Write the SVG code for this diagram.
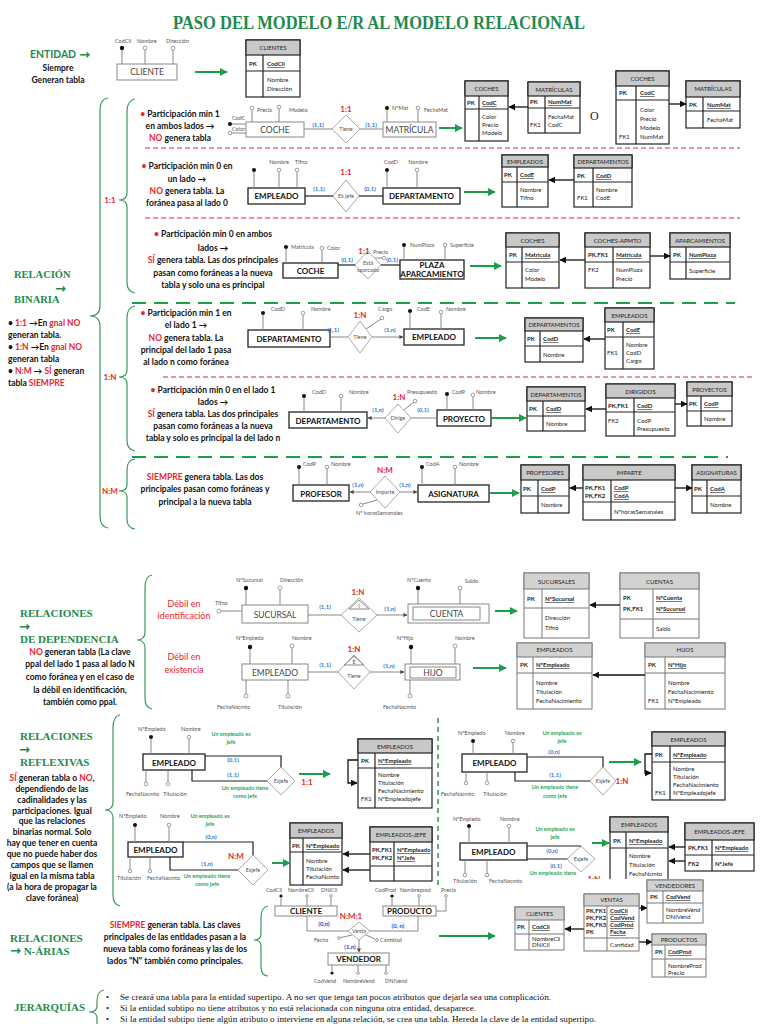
<svg xmlns="http://www.w3.org/2000/svg" width="768" height="1024" viewBox="0 0 768 1024">
<defs>
<marker id="ah" viewBox="0 0 10 10" refX="9" refY="5" markerWidth="7" markerHeight="7" orient="auto" markerUnits="userSpaceOnUse"><path d="M0,0 L10,5 L0,10 z" fill="#111"/></marker>
<marker id="gah" viewBox="0 0 10 10" refX="9" refY="5" markerWidth="8" markerHeight="8" orient="auto" markerUnits="userSpaceOnUse"><path d="M0,0 L10,5 L0,10 z" fill="#1e9e4a"/></marker>
<marker id="sah" viewBox="0 0 10 10" refX="9" refY="5" markerWidth="4" markerHeight="4" orient="auto" markerUnits="userSpaceOnUse"><path d="M0,0 L10,5 L0,10 z" fill="#444"/></marker>
<style>
.s{font-family:Lato,'Liberation Sans',Arial,sans-serif}
.bt{font-family:Lato,'Liberation Sans',Arial,sans-serif;font-weight:bold;font-size:8.5px;fill:#111}
.red{fill:#e8262e}
.ser{font-family:'Liberation Serif','Times New Roman',serif;font-weight:bold;fill:#1f8a4c}
.arr{font-family:'DejaVu Sans',sans-serif;font-weight:bold;fill:#1f8a4c}
.at{font-family:Lato,'Liberation Sans',sans-serif;font-size:5.5px;fill:#555}
.card{font-family:Lato,'Liberation Sans',sans-serif;font-weight:bold;font-size:6px;fill:#2e7dd1;text-anchor:middle}
.rl{font-family:Lato,'Liberation Sans',sans-serif;font-weight:bold;font-size:8px;fill:#e8262e;text-anchor:middle}
.ent{fill:#fff;stroke:#222;stroke-width:1.3}
.entg{fill:#fff;stroke:#888;stroke-width:1}
.et{font-family:Lato,'Liberation Sans',sans-serif;font-weight:bold;font-size:8px;fill:#111;text-anchor:middle}
.etg{font-family:Lato,'Liberation Sans',sans-serif;font-size:8.5px;fill:#444;text-anchor:middle}
.dia{fill:#fff;stroke:#aaa;stroke-width:1}
.dt{font-family:Lato,'Liberation Sans',sans-serif;font-size:5.5px;fill:#555;text-anchor:middle}
.ln{stroke:#888;stroke-width:1;fill:none}
.lk{stroke:#222;stroke-width:1.2;fill:none}
.fd{fill:#111}
.hd{fill:#fff;stroke:#888;stroke-width:0.8}
.tb{fill:#fff;stroke:#222;stroke-width:1.2}
.th{fill:#c8c8c8;stroke:#222;stroke-width:1.2}
.tl{stroke:#222;stroke-width:1.2}
.tbg{fill:#fff;stroke:#777;stroke-width:1}
.thg{fill:#d2d2d2;stroke:#777;stroke-width:1}
.tlg{stroke:#777;stroke-width:1}
.tt{font-family:Lato,'Liberation Sans',sans-serif;font-size:6px;fill:#222}
.c{text-anchor:middle}
.b{font-weight:bold}
.tk{font-weight:bold;text-decoration:underline}
.fk{stroke:#111;stroke-width:1.3;fill:none;marker-end:url(#ah)}
.ga{stroke:#1e9e4a;stroke-width:2;fill:none;marker-end:url(#gah)}
.br{stroke:#3a9a5c;stroke-width:1.2;fill:none}
.rd{stroke:#e8262e;stroke-width:1;stroke-dasharray:5 3}
.gd{stroke:#1e9e4a;stroke-width:2.2;stroke-dasharray:14 8}
.gt{font-family:Lato,'Liberation Sans',sans-serif;font-weight:bold;font-size:5.5px;fill:#2aa85a;text-anchor:middle}
.jt{font-family:'Liberation Serif','Times New Roman',serif;font-size:8.5px;fill:#111}
</style>
</defs>
<rect width="768" height="1024" fill="#fff"/>

<text x="173" y="29" class="ser" font-size="18" textLength="412" lengthAdjust="spacingAndGlyphs">PASO DEL MODELO E/R AL MODELO RELACIONAL</text>

<!-- ===== ENTIDAD ===== -->
<g id="lbl-entidad">
<text x="30" y="58" class="s" font-weight="bold" font-size="11.5" fill="#1f8a4c" textLength="46" lengthAdjust="spacingAndGlyphs">ENTIDAD</text>
<text x="79" y="58.5" class="arr" font-size="13">→</text>
<text x="58" y="71" class="bt" text-anchor="middle">Siempre</text>
<text x="58" y="83" class="bt" text-anchor="middle">Generan tabla</text>
</g>
<g id="e-cliente">
<rect class="entg" x="117" y="64" width="60" height="16"/>
<text class="etg" x="147" y="75" font-size="8">CLIENTE</text>
<line class="ln" x1="122" y1="50" x2="122" y2="64"/><circle class="fd" cx="122" cy="48" r="2.2"/><text class="at" x="115" y="43" font-size="5">CodCli</text>
<line class="ln" x1="145" y1="50" x2="145" y2="64"/><circle class="hd" cx="145" cy="48" r="2"/><text class="at" x="137" y="43" font-size="5">Nombre</text>
<line class="ln" x1="173" y1="50" x2="173" y2="64"/><circle class="hd" cx="173" cy="48" r="2"/><text class="at" x="166" y="43" font-size="5">Dirección</text>
</g>
<g id="t-clientes">
<rect class="tb" x="246" y="40" width="54" height="57"/><rect class="th" x="246" y="40" width="54" height="15"/>
<line class="tl" x1="246" y1="71" x2="300" y2="71"/><line class="tl" x1="263" y1="55" x2="263" y2="97"/>
<text class="tt c" x="273" y="50">CLIENTES</text>
<text class="tt b" x="249" y="66">PK</text><text class="tt tk" x="267" y="66">CodCli</text>
<text class="tt" x="267" y="82">Nombre</text><text class="tt" x="267" y="91">Dirección</text>
</g>

<!-- ===== BINARIA braces & left text ===== -->
<g id="braces-binaria">
<path class="br" d="M108,98 Q100,99 100,110 L100,306 Q100,316 90,316 Q100,316 100,326 L100,516 Q100,527 108,528"/>
<path class="br" d="M135,99 Q127,100 127,112 L127,193 Q127,200 119,200 Q127,200 127,207 L127,282 Q127,292 135,293"/>
<path class="br" d="M135,306 Q127,307 127,318 L127,370 Q127,377 119,377 Q127,377 127,384 L127,440 Q127,450 135,451"/>
<path class="br" d="M135,459 Q127,460 127,470 L127,485 Q127,491 119,491 Q127,491 127,497 L127,519 Q127,528 135,529"/>
<text class="rl" x="110" y="203">1:1</text>
<text class="rl" x="110" y="380">1:N</text>
<text class="rl" x="110" y="494">N:M</text>
</g>
<g id="lbl-binaria">
<text x="14" y="278" class="ser" font-size="10.5">RELACIÓN</text>
<text x="55" y="293" class="arr" font-size="13">→</text>
<text x="14" y="303" class="ser" font-size="10.5">BINARIA</text>
<text x="8" y="326" class="bt">• <tspan class="red">1:1</tspan> →En <tspan class="red">gnal NO</tspan></text>
<text x="8" y="338" class="bt">generan tabla.</text>
<text x="8" y="350" class="bt">• <tspan class="red">1:N</tspan> →En <tspan class="red">gnal NO</tspan></text>
<text x="8" y="362" class="bt">generan tabla</text>
<text x="8" y="374" class="bt">• <tspan class="red">N:M</tspan> → <tspan class="red">SÍ</tspan> generan</text>
<text x="8" y="386" class="bt">tabla <tspan class="red">SIEMPRE</tspan></text>
</g>

<!-- separators -->
<g id="separators">
<line class="rd" x1="145" y1="148" x2="740" y2="148"/>
<line class="rd" x1="145" y1="218" x2="740" y2="218"/>
<line class="gd" x1="132" y1="303" x2="735" y2="303"/>
<line class="rd" x1="163" y1="377" x2="755" y2="377"/>
<line class="gd" x1="132" y1="457" x2="728" y2="457"/>
</g>

<!-- ===== 1:1 row 1 ===== -->
<g id="txt-11a">
<text x="180" y="117" class="bt" text-anchor="middle"><tspan class="red">•</tspan> Participación min 1</text>
<text x="180" y="129" class="bt" text-anchor="middle">en ambos lados →</text>
<text x="180" y="141" class="bt" text-anchor="middle"><tspan class="red">NO</tspan> genera tabla</text>
</g>
<g id="e-coche1">
<rect class="entg" x="246" y="122" width="58" height="15"/>
<text class="etg" x="275" y="133" font-size="8">COCHE</text>
<line class="ln" x1="232" y1="124" x2="246" y2="124"/><circle class="fd" cx="230" cy="124" r="2"/><text class="at" x="232" y="120" font-size="5">CodC</text>
<line class="ln" x1="232" y1="133" x2="246" y2="133"/><circle class="hd" cx="230" cy="133" r="1.8"/><text class="at" x="232" y="131" font-size="5">Color</text>
<line class="ln" x1="252" y1="110" x2="252" y2="122"/><circle class="hd" cx="252" cy="108" r="1.8"/><text class="at" x="257" y="112">Precio</text>
<line class="ln" x1="279" y1="109" x2="279" y2="122"/><circle class="hd" cx="279" cy="107" r="1.8"/><text class="at" x="289" y="112">Modelo</text>
</g>
<g id="r-tiene1">
<polygon class="dia" points="346,115 360,129 346,143 332,129"/><text class="dt" x="346" y="131">Tiene</text>
<text class="rl" x="346" y="112">1:1</text>
</g>
<g id="e-matricula">
<rect class="entg" x="383" y="122" width="53" height="15"/>
<text class="etg" x="409.5" y="133" font-size="8">MATRÍCULA</text>
<line class="ln" x1="387" y1="110" x2="387" y2="122"/><circle class="fd" cx="387" cy="108" r="2"/><text class="at" x="392" y="110">NºMat</text>
<line class="ln" x1="418" y1="110" x2="418" y2="122"/><circle class="hd" cx="418" cy="108" r="1.8"/><text class="at" x="424" y="112">FechaMat</text>
</g>
<g id="t-coches1">
<rect class="tb" x="465" y="81" width="43" height="60"/><rect class="th" x="465" y="81" width="43" height="15"/>
<line class="tl" x1="465" y1="109" x2="508" y2="109"/><line class="tl" x1="479" y1="96" x2="479" y2="141"/>
<text class="tt c" x="486.5" y="91">COCHES</text>
<text class="tt b" x="467" y="105">PK</text><text class="tt tk" x="482" y="105">CodC</text>
<text class="tt" x="482" y="119">Color</text><text class="tt" x="482" y="127">Precio</text><text class="tt" x="482" y="135">Modelo</text>
</g>
<g id="t-matriculas1">
<rect class="tb" x="528" y="82" width="52" height="51"/><rect class="th" x="528" y="82" width="52" height="14"/>
<line class="tl" x1="528" y1="108" x2="580" y2="108"/><line class="tl" x1="545" y1="96" x2="545" y2="133"/>
<text class="tt c" x="554" y="91.5">MATRÍCULAS</text>
<text class="tt b" x="530" y="104">PK</text><text class="tt tk" x="548" y="104">NumMat</text>
<text class="tt" x="548" y="119">FechaMat</text><text class="tt" x="548" y="127">CodC</text><text class="tt" x="530" y="127">FK1</text>
</g>
<text x="590" y="120" font-family="'Liberation Serif',serif" font-size="12" fill="#222">O</text>
<g id="t-coches2">
<rect class="tb" x="616" y="71" width="53" height="73"/><rect class="th" x="616" y="71" width="53" height="15"/>
<line class="tl" x1="616" y1="100" x2="669" y2="100"/><line class="tl" x1="636" y1="86" x2="636" y2="144"/>
<text class="tt c" x="642.5" y="81">COCHES</text>
<text class="tt b" x="619" y="95">PK</text><text class="tt tk" x="640" y="95">CodC</text>
<text class="tt" x="640" y="112">Color</text><text class="tt" x="640" y="121">Precio</text><text class="tt" x="640" y="130">Modelo</text><text class="tt" x="640" y="139">NumMat</text>
<text class="tt" x="619" y="139">FK1</text>
</g>
<g id="t-matriculas2">
<rect class="tb" x="686" y="81" width="54" height="47"/><rect class="th" x="686" y="81" width="54" height="16"/>
<line class="tl" x1="686" y1="111" x2="740" y2="111"/><line class="tl" x1="703" y1="97" x2="703" y2="128"/>
<text class="tt c" x="713" y="91">MATRÍCULAS</text>
<text class="tt b" x="689" y="107">PK</text><text class="tt tk" x="707" y="107">NumMat</text>
<text class="tt" x="707" y="122">FechaMat</text>
</g>

<!-- ===== 1:1 row 2 ===== -->
<g id="txt-11b">
<text x="187" y="169" class="bt" text-anchor="middle"><tspan class="red">•</tspan> Participación min 0 en</text>
<text x="187" y="182" class="bt" text-anchor="middle">un lado →</text>
<text x="187" y="194" class="bt" text-anchor="middle"><tspan class="red">NO</tspan> genera tabla. La</text>
<text x="187" y="206" class="bt" text-anchor="middle">foránea pasa al lado 0</text>
</g>
<g id="e-empleado2">
<rect class="ent" x="248" y="188" width="57" height="16"/><text class="et" x="276.5" y="199">EMPLEADO</text>
<line class="ln" x1="254" y1="172" x2="254" y2="188"/><circle class="fd" cx="254" cy="170" r="2"/>
<line class="ln" x1="279" y1="172" x2="279" y2="188"/><circle class="hd" cx="279" cy="170" r="1.8"/><text class="at" x="279" y="164" text-anchor="middle">Nombre</text>
<line class="ln" x1="297" y1="172" x2="297" y2="188"/><circle class="hd" cx="297" cy="170" r="1.8"/><text class="at" x="301" y="164" text-anchor="middle">Tlfno</text>
</g>
<g id="r-esjefe">
<polygon class="dia" points="346,180 359,196 346,212 333,196"/><text class="dt" x="346" y="198">Es jefe</text>
<text class="rl" x="346" y="175">1:1</text>
</g>
<g id="e-departamento2">
<rect class="ent" x="383" y="188" width="77" height="16"/><text class="et" x="421.5" y="199">DEPARTAMENTO</text>
<line class="ln" x1="387" y1="172" x2="387" y2="188"/><circle class="fd" cx="387" cy="170" r="2"/><text class="at" x="391" y="164" text-anchor="middle">CodD</text>
<line class="ln" x1="417" y1="172" x2="417" y2="188"/><circle class="hd" cx="417" cy="170" r="1.8"/><text class="at" x="418" y="164" text-anchor="middle">Nombre</text>
</g>
<g id="t-empleados2">
<rect class="tb" x="502" y="155" width="46" height="52"/><rect class="th" x="502" y="155" width="46" height="12"/>
<line class="tl" x1="502" y1="182" x2="548" y2="182"/><line class="tl" x1="517" y1="167" x2="517" y2="207"/>
<text class="tt c" x="525" y="163.5" font-size="5.5">EMPLEADOS</text>
<text class="tt b" x="504" y="177">PK</text><text class="tt tk" x="520" y="177">CodE</text>
<text class="tt" x="520" y="192">Nombre</text><text class="tt" x="520" y="200">Tlfno</text>
</g>
<g id="t-departamentos2">
<rect class="tb" x="574" y="155" width="58" height="52"/><rect class="th" x="574" y="155" width="58" height="13"/>
<line class="tl" x1="574" y1="182" x2="632" y2="182"/><line class="tl" x1="593" y1="168" x2="593" y2="207"/>
<text class="tt c" x="603" y="164" font-size="5.5">DEPARTAMENTOS</text>
<text class="tt b" x="577" y="178">PK</text><text class="tt tk" x="596" y="178">CodD</text>
<text class="tt" x="596" y="192">Nombre</text><text class="tt" x="596" y="200">CodE</text><text class="tt" x="577" y="200">FK1</text>
</g>

<!-- ===== 1:1 row 3 ===== -->
<g id="txt-11c">
<text x="213" y="237" class="bt" text-anchor="middle"><tspan class="red">•</tspan> Participación min 0 en ambos</text>
<text x="213" y="251" class="bt" text-anchor="middle">lados →</text>
<text x="213" y="263" class="bt" text-anchor="middle"><tspan class="red">SÍ</tspan> genera tabla. Las dos principales</text>
<text x="213" y="276" class="bt" text-anchor="middle">pasan como foráneas a la nueva</text>
<text x="213" y="288" class="bt" text-anchor="middle">tabla y solo una es principal</text>
</g>
<g id="e-coche3">
<rect class="ent" x="283" y="263" width="55" height="15"/><text class="et" x="310.5" y="274">COCHE</text>
<line class="ln" x1="286" y1="249" x2="286" y2="263"/><circle class="fd" cx="286" cy="247" r="2"/><text class="at" x="291" y="249">Matricula</text>
<line class="ln" x1="322" y1="250" x2="322" y2="263"/><circle class="hd" cx="322" cy="248" r="1.8"/><text class="at" x="327" y="250">Color</text>
</g>
<g id="r-aparcado">
<polygon class="dia" points="368,251 381,265 368,279 355,265"/>
<text class="dt" x="368" y="265" font-size="4.8">Está</text><text class="dt" x="368" y="272" font-size="4.8">aparcado</text>
<text class="rl" x="364" y="254" font-size="6.5">1:1</text>
<text class="at" x="373" y="254">Precio</text>
<line class="ln" x1="375" y1="258" x2="382" y2="258"/><circle class="hd" cx="384" cy="258" r="1.8"/>
</g>
<g id="e-plaza">
<rect class="ent" x="400" y="260" width="64" height="19"/>
<text class="et" x="432" y="268" font-size="7">PLAZA</text><text class="et" x="432" y="277" font-size="7">APARCAMIENTO</text>
<line class="ln" x1="404" y1="247" x2="404" y2="260"/><circle class="fd" cx="404" cy="245" r="2"/><text class="at" x="410" y="247">NumPlaza</text>
<line class="ln" x1="445" y1="247" x2="445" y2="260"/><circle class="hd" cx="445" cy="245" r="1.8"/><text class="at" x="450" y="247">Superficie</text>
</g>
<g id="t-coches3">
<rect class="tb" x="506" y="233" width="53" height="55"/><rect class="th" x="506" y="233" width="53" height="14"/>
<line class="tl" x1="506" y1="262" x2="559" y2="262"/><line class="tl" x1="522" y1="247" x2="522" y2="288"/>
<text class="tt c" x="532.5" y="242.5">COCHES</text>
<text class="tt b" x="509" y="257">PK</text><text class="tt tk" x="525" y="257">Matricula</text>
<text class="tt" x="525" y="272">Color</text><text class="tt" x="525" y="281">Modelo</text>
</g>
<g id="t-cochesapmto">
<rect class="tb" x="585" y="233" width="65" height="55"/><rect class="th" x="585" y="233" width="65" height="14"/>
<line class="tl" x1="585" y1="262" x2="650" y2="262"/><line class="tl" x1="613" y1="247" x2="613" y2="288"/>
<text class="tt c" x="617.5" y="242.5">COCHES-APMTO</text>
<text class="tt b" x="588" y="257">PK,FK1</text><text class="tt tk" x="616" y="257">Matricula</text>
<text class="tt" x="616" y="272">NumPlaza</text><text class="tt" x="616" y="281">Precio</text><text class="tt" x="588" y="272">FK2</text>
</g>
<g id="t-aparcamientos">
<rect class="tb" x="670" y="233" width="60" height="46"/><rect class="th" x="670" y="233" width="60" height="14"/>
<line class="tl" x1="670" y1="262" x2="730" y2="262"/><line class="tl" x1="686" y1="247" x2="686" y2="279"/>
<text class="tt c" x="700" y="242.5" font-size="5.5">APARCAMIENTOS</text>
<text class="tt b" x="673" y="257">PK</text><text class="tt tk" x="689" y="257">NumPlaza</text>
<text class="tt" x="689" y="273">Superficie</text>
</g>

<!-- ===== 1:N row 1 ===== -->
<g id="txt-1na">
<text x="186" y="316" class="bt" text-anchor="middle"><tspan class="red">•</tspan> Participación min 1 en</text>
<text x="186" y="328" class="bt" text-anchor="middle">el lado 1 →</text>
<text x="186" y="341" class="bt" text-anchor="middle"><tspan class="red">NO</tspan> genera tabla. La</text>
<text x="186" y="353" class="bt" text-anchor="middle">principal del lado 1 pasa</text>
<text x="186" y="365" class="bt" text-anchor="middle">al lado n como foránea</text>
</g>
<g id="e-departamento4">
<rect class="ent" x="248" y="330" width="82" height="17"/><text class="et" x="289" y="341.5">DEPARTAMENTO</text>
<line class="ln" x1="263" y1="315" x2="263" y2="330"/><circle class="fd" cx="263" cy="313" r="2"/><text class="at" x="271" y="311">CodD</text>
<line class="ln" x1="303" y1="315" x2="303" y2="330"/><circle class="hd" cx="303" cy="313" r="1.8"/><text class="at" x="311" y="311">Nombre</text>
</g>
<g id="r-tiene4">
<polygon class="dia" points="360,321 372,337 360,353 348,337"/><text class="dt" x="360" y="339">Tiene</text>
<text class="rl" x="360" y="318">1:N</text>
<line class="ln" x1="366" y1="329" x2="381" y2="319"/><circle class="hd" cx="382" cy="318" r="1.8"/><text class="at" x="378" y="311">Cargo</text>
</g>
<g id="e-empleado4">
<rect class="ent" x="404" y="329" width="60" height="16"/><text class="et" x="434" y="340">EMPLEADO</text>
<line class="ln" x1="410" y1="313" x2="410" y2="329"/><circle class="fd" cx="410" cy="311" r="2"/><text class="at" x="417" y="311">CodE</text>
<line class="ln" x1="441" y1="314" x2="441" y2="329"/><circle class="hd" cx="441" cy="312" r="1.8"/><text class="at" x="446" y="311">Nombre</text>
</g>
<g id="t-departamentos4">
<rect class="tb" x="525" y="318" width="58" height="44"/><rect class="th" x="525" y="318" width="58" height="13"/>
<line class="tl" x1="525" y1="346" x2="583" y2="346"/><line class="tl" x1="540" y1="331" x2="540" y2="362"/>
<text class="tt c" x="554" y="327" font-size="5.5">DEPARTAMENTOS</text>
<text class="tt b" x="527" y="341">PK</text><text class="tt tk" x="543" y="341">CodD</text>
<text class="tt" x="543" y="357">Nombre</text>
</g>
<g id="t-empleados4">
<rect class="tb" x="605" y="308" width="49" height="61"/><rect class="th" x="605" y="308" width="49" height="14"/>
<line class="tl" x1="605" y1="337" x2="654" y2="337"/><line class="tl" x1="623" y1="322" x2="623" y2="369"/>
<text class="tt c" x="629.5" y="317.5" font-size="5.5">EMPLEADOS</text>
<text class="tt b" x="607" y="332">PK</text><text class="tt tk" x="626" y="332">CodE</text>
<text class="tt" x="626" y="347">Nombre</text><text class="tt" x="626" y="355">CodD</text><text class="tt" x="626" y="363">Cargo</text>
<text class="tt" x="607" y="355">FK1</text>
</g>

<!-- ===== 1:N row 2 ===== -->
<g id="txt-1nb">
<text x="213" y="393" class="bt" text-anchor="middle"><tspan class="red">•</tspan> Participación min 0 en el lado 1</text>
<text x="213" y="405" class="bt" text-anchor="middle">lados →</text>
<text x="213" y="417" class="bt" text-anchor="middle"><tspan class="red">SÍ</tspan> genera tabla. Las dos principales</text>
<text x="213" y="429" class="bt" text-anchor="middle">pasan como foráneas a la nueva</text>
<text x="213" y="441" class="bt" text-anchor="middle">tabla y solo es principal la del lado n</text>
</g>
<g id="e-departamento5">
<rect class="ent" x="289" y="412" width="78" height="16"/><text class="et" x="328" y="423.5">DEPARTAMENTO</text>
<line class="ln" x1="304" y1="398" x2="304" y2="412"/><circle class="fd" cx="304" cy="396" r="2"/><text class="at" x="312" y="394">CodD</text>
<line class="ln" x1="341" y1="398" x2="341" y2="412"/><circle class="hd" cx="341" cy="396" r="1.8"/><text class="at" x="349" y="394">Nombre</text>
</g>
<g id="r-dirige">
<polygon class="dia" points="398,404 411,418 398,433 385,418"/><text class="dt" x="398" y="420">Dirige</text>
<text class="rl" x="399" y="400">1:N</text>
<line class="ln" x1="404" y1="410" x2="414" y2="402"/><circle class="hd" cx="415" cy="401" r="1.8"/><text class="at" x="407" y="394">Presupuesto</text>
</g>
<g id="e-proyecto">
<rect class="ent" x="437" y="410" width="54" height="16"/><text class="et" x="464" y="421.5">PROYECTO</text>
<line class="ln" x1="447" y1="396" x2="447" y2="410"/><circle class="fd" cx="447" cy="394" r="2"/><text class="at" x="452" y="394">CodP</text>
<line class="ln" x1="473" y1="397" x2="473" y2="410"/><circle class="hd" cx="473" cy="395" r="1.8"/><text class="at" x="476" y="394">Nombre</text>
</g>
<g id="t-departamentos5">
<rect class="tb" x="527" y="387" width="58" height="44"/><rect class="th" x="527" y="387" width="58" height="14"/>
<line class="tl" x1="527" y1="416" x2="585" y2="416"/><line class="tl" x1="543" y1="401" x2="543" y2="431"/>
<text class="tt c" x="556" y="396.5" font-size="5.5">DEPARTAMENTOS</text>
<text class="tt b" x="529" y="411">PK</text><text class="tt tk" x="546" y="411">CodD</text>
<text class="tt" x="546" y="426">Nombre</text>
</g>
<g id="t-dirigidos">
<rect class="tb" x="606" y="384" width="69" height="52"/><rect class="th" x="606" y="384" width="69" height="14"/>
<line class="tl" x1="606" y1="412" x2="675" y2="412"/><line class="tl" x1="634" y1="398" x2="634" y2="436"/>
<text class="tt c" x="640.5" y="393.5">DIRIGIDOS</text>
<text class="tt b" x="608" y="408">PK,FK1</text><text class="tt tk" x="637" y="408">CodD</text>
<text class="tt" x="637" y="423">CodP</text><text class="tt" x="637" y="431">Presupuesto</text><text class="tt" x="608" y="423">FK2</text>
</g>
<g id="t-proyectos">
<rect class="tb" x="687" y="382" width="45" height="44"/><rect class="th" x="687" y="382" width="45" height="14"/>
<line class="tl" x1="687" y1="411" x2="732" y2="411"/><line class="tl" x1="701" y1="396" x2="701" y2="426"/>
<text class="tt c" x="709.5" y="391.5" font-size="5.5">PROYECTOS</text>
<text class="tt b" x="689" y="406">PK</text><text class="tt tk" x="704" y="406">CodP</text>
<text class="tt" x="704" y="421">Nombre</text>
</g>

<!-- ===== N:M ===== -->
<g id="txt-nm">
<text x="205" y="480" class="bt" text-anchor="middle"><tspan class="red">SIEMPRE</tspan> genera tabla. Las dos</text>
<text x="205" y="492" class="bt" text-anchor="middle">principales pasan como foráneas y</text>
<text x="205" y="505" class="bt" text-anchor="middle">principal a la nueva tabla</text>
</g>
<g id="e-profesor">
<rect class="ent" x="293" y="485" width="56" height="16"/><text class="et" x="321" y="496.5">PROFESOR</text>
<line class="ln" x1="299" y1="469" x2="299" y2="485"/><circle class="fd" cx="299" cy="467" r="2"/><text class="at" x="303" y="466">CodP</text>
<line class="ln" x1="327" y1="469" x2="327" y2="485"/><circle class="hd" cx="327" cy="467" r="1.8"/><text class="at" x="331" y="466">Nombre</text>
</g>
<g id="r-imparte">
<polygon class="dia" points="385,476 400,492 385,508 370,492"/><text class="dt" x="385" y="494">Imparte</text>
<text class="rl" x="385" y="473">N:M</text>
<line class="ln" x1="377" y1="500" x2="363" y2="504"/><circle class="hd" cx="361" cy="505" r="1.8"/><text class="at" x="356" y="515">Nº horasSemanales</text>
</g>
<g id="e-asignatura">
<rect class="ent" x="418" y="485" width="71" height="17"/><text class="et" x="453.5" y="497">ASIGNATURA</text>
<line class="ln" x1="422" y1="469" x2="422" y2="485"/><circle class="fd" cx="422" cy="467" r="2"/><text class="at" x="426" y="466">CodA</text>
<line class="ln" x1="455" y1="469" x2="455" y2="485"/><circle class="hd" cx="455" cy="467" r="1.8"/><text class="at" x="459" y="466">Nombre</text>
</g>
<g id="t-profesores">
<rect class="tb" x="521" y="465" width="48" height="48"/><rect class="th" x="521" y="465" width="48" height="15"/>
<line class="tl" x1="521" y1="496" x2="569" y2="496"/><line class="tl" x1="538" y1="480" x2="538" y2="513"/>
<text class="tt c" x="545" y="475" font-size="5.5">PROFESORES</text>
<text class="tt b" x="523" y="491">PK</text><text class="tt tk" x="541" y="491">CodP</text>
<text class="tt" x="541" y="507">Nombre</text>
</g>
<g id="t-imparte">
<rect class="tb" x="583" y="465" width="92" height="55"/><rect class="th" x="583" y="465" width="92" height="15"/>
<line class="tl" x1="583" y1="502" x2="675" y2="502"/><line class="tl" x1="611" y1="480" x2="611" y2="520"/>
<text class="tt c" x="629" y="475">IMPARTE</text>
<text class="tt b" x="585" y="490">PK,FK1</text><text class="tt b" x="585" y="498">PK,FK2</text>
<text class="tt tk" x="614" y="490">CodP</text><text class="tt tk" x="614" y="498">CodA</text>
<text class="tt" x="614" y="514">NºhorasSemanales</text>
</g>
<g id="t-asignaturas">
<rect class="tb" x="692" y="465" width="49" height="48"/><rect class="th" x="692" y="465" width="49" height="15"/>
<line class="tl" x1="692" y1="496" x2="741" y2="496"/><line class="tl" x1="707" y1="480" x2="707" y2="513"/>
<text class="tt c" x="716.5" y="475" font-size="5.5">ASIGNATURAS</text>
<text class="tt b" x="694" y="491">PK</text><text class="tt tk" x="710" y="491">CodA</text>
<text class="tt" x="710" y="507">Nombre</text>
</g>

<!-- ===== DEPENDENCIA ===== -->
<g id="lbl-dependencia">
<text x="20" y="617" class="ser" font-size="11">RELACIONES</text>
<text x="19" y="631" class="arr" font-size="13">→</text>
<text x="20" y="643" class="ser" font-size="11">DE DEPENDENCIA</text>
<text x="80" y="655" class="bt" text-anchor="middle"><tspan class="red">NO</tspan> generan tabla (La clave</text>
<text x="80" y="667" class="bt" text-anchor="middle">ppal del lado 1 pasa al lado N</text>
<text x="80" y="680" class="bt" text-anchor="middle">como foránea y en el caso de</text>
<text x="80" y="693" class="bt" text-anchor="middle">la débil en identificación,</text>
<text x="80" y="705" class="bt" text-anchor="middle">también como ppal.</text>
<path class="br" d="M152,575 Q145,576 145,588 L145,632 Q145,640 137,640 Q145,640 145,648 L145,698 Q145,708 152,709"/>
<text x="184" y="607" class="s" font-size="9" text-anchor="middle" fill="#e8262e">Débil en</text>
<text x="184" y="619" class="s" font-size="9" text-anchor="middle" fill="#e8262e">identificación</text>
<text x="184" y="660" class="s" font-size="9" text-anchor="middle" fill="#e8262e">Débil en</text>
<text x="184" y="673" class="s" font-size="9" text-anchor="middle" fill="#e8262e">existencia</text>
</g>
<g id="e-sucursal">
<rect class="entg" x="242" y="605" width="66" height="18" stroke="#666"/><text class="etg" x="275" y="618">SUCURSAL</text>
<line class="ln" x1="246" y1="590" x2="246" y2="605"/><circle class="fd" cx="246" cy="588" r="2.2"/><text class="at" x="236" y="582">NºSucursal</text>
<line class="ln" x1="280" y1="590" x2="280" y2="605"/><circle class="hd" cx="280" cy="588" r="2"/><text class="at" x="280" y="582">Dirección</text>
<line class="ln" x1="221" y1="611" x2="242" y2="611"/><circle class="hd" cx="219" cy="611" r="2"/><text class="at" x="215" y="605">Tlfno</text>
</g>
<g id="r-tiene-id">
<polygon class="dia" points="359,598 377,615 359,632 341,615"/>
<path class="ln" d="M349,609 L359,600 L369,609 Z"/>
<text class="dt" x="359" y="608" font-size="6">I</text>
<text class="dt" x="359" y="621" font-size="6.5">Tiene</text>
<text class="rl" x="358" y="595">1:N</text>
</g>
<g id="e-cuenta">
<rect class="entg" x="408" y="604" width="81" height="19" stroke="#666"/><rect class="entg" x="413" y="607" width="67" height="13" stroke="#666"/>
<text class="etg" x="446.5" y="617">CUENTA</text>
<line class="ln" x1="418" y1="590" x2="418" y2="604"/><circle class="fd" cx="418" cy="588" r="2.2"/><text class="at" x="407" y="582">NºCuenta</text>
<line class="ln" x1="460" y1="590" x2="460" y2="604"/><circle class="hd" cx="460" cy="588" r="2"/><text class="at" x="465" y="583">Saldo</text>
</g>
<g id="t-sucursales">
<rect class="tbg" x="524" y="573" width="65" height="65"/><rect class="thg" x="524" y="573" width="65" height="16"/>
<line class="tlg" x1="524" y1="608" x2="589" y2="608"/><line class="tlg" x1="542" y1="589" x2="542" y2="638"/>
<text class="tt c" x="556.5" y="584" font-size="7">SUCURSALES</text>
<text class="tt b" x="527" y="601" font-size="6.5">PK</text><text class="tt tk" x="545" y="601" font-size="7">NºSucursal</text>
<text class="tt" x="545" y="620" font-size="6.5">Dirección</text><text class="tt" x="545" y="630" font-size="6.5">Tlfno</text>
</g>
<g id="t-cuentas">
<rect class="tbg" x="620" y="573" width="79" height="65"/><rect class="thg" x="620" y="573" width="79" height="16"/>
<line class="tlg" x1="620" y1="619" x2="699" y2="619"/><line class="tlg" x1="653" y1="589" x2="653" y2="638"/>
<text class="tt c" x="659.5" y="584" font-size="7">CUENTAS</text>
<text class="tt b" x="623" y="600" font-size="6.5">PK</text><text class="tt b" x="623" y="611" font-size="6.5">PK,FK1</text>
<text class="tt tk" x="656" y="600" font-size="7">NºCuenta</text><text class="tt tk" x="656" y="611" font-size="7">NºSucursal</text>
<text class="tt" x="656" y="631" font-size="6.5">Saldo</text>
</g>
<g id="e-empleado-dep">
<rect class="entg" x="242" y="664" width="66" height="16" stroke="#666"/><text class="etg" x="275" y="676">EMPLEADO</text>
<line class="ln" x1="250" y1="649" x2="250" y2="664"/><circle class="fd" cx="250" cy="647" r="2.2"/><text class="at" x="236" y="640">NºEmpledo</text>
<line class="ln" x1="292" y1="648" x2="292" y2="664"/><circle class="hd" cx="292" cy="646" r="2"/><text class="at" x="292" y="640">Nombre</text>
<line class="ln" x1="246" y1="680" x2="246" y2="694"/><circle class="hd" cx="246" cy="696" r="2"/><text class="at" x="217" y="709">FechaNacmto</text>
<line class="ln" x1="288" y1="680" x2="288" y2="694"/><circle class="hd" cx="288" cy="696" r="2"/><text class="at" x="278" y="709">Titulación</text>
</g>
<g id="r-tiene-ex">
<polygon class="dia" points="354,655 370,672 354,689 338,672"/>
<path class="ln" d="M344,665 L354,656 L364,665 Z"/>
<text class="dt" x="354" y="664" font-size="6">E</text>
<text class="dt" x="354" y="678" font-size="6.5">Tiene</text>
<text class="rl" x="354" y="652">1:N</text>
</g>
<g id="e-hijo">
<rect class="entg" x="405" y="664" width="55" height="16" stroke="#666"/><rect class="entg" x="410" y="667" width="46" height="11" stroke="#666"/>
<text class="etg" x="433" y="676">HIJO</text>
<line class="ln" x1="411" y1="649" x2="411" y2="664"/><circle class="fd" cx="411" cy="647" r="2.2"/><text class="at" x="397" y="640">NºHijo</text>
<line class="ln" x1="455" y1="648" x2="455" y2="664"/><circle class="hd" cx="455" cy="646" r="2"/><text class="at" x="455" y="640">Nombre</text>
<line class="ln" x1="410" y1="680" x2="410" y2="694"/><circle class="hd" cx="410" cy="696" r="2"/><text class="at" x="383" y="709">FechaNacmto</text>
</g>
<g id="t-empleados-dep">
<rect class="tbg" x="517" y="643" width="75" height="66"/><rect class="thg" x="517" y="643" width="75" height="14"/>
<line class="tlg" x1="517" y1="673" x2="592" y2="673"/><line class="tlg" x1="533" y1="657" x2="533" y2="709"/>
<text class="tt c" x="554.5" y="652">EMPLEADOS</text>
<text class="tt b" x="520" y="667">PK</text><text class="tt tk" x="536" y="667">NºEmpleado</text>
<text class="tt" x="536" y="685">Nombre</text><text class="tt" x="536" y="694">Titulación</text><text class="tt" x="536" y="703">FechaNacimiento</text>
</g>
<g id="t-hijos">
<rect class="tbg" x="645" y="643" width="80" height="66"/><rect class="thg" x="645" y="643" width="80" height="14"/>
<line class="tlg" x1="645" y1="673" x2="725" y2="673"/><line class="tlg" x1="665" y1="657" x2="665" y2="709"/>
<text class="tt c" x="685" y="652">HIJOS</text>
<text class="tt b" x="648" y="667">PK</text><text class="tt tk" x="668" y="667">NºHijo</text>
<text class="tt" x="668" y="685">Nombre</text><text class="tt" x="668" y="694">FechaNacimiento</text><text class="tt" x="668" y="703">NºEmpleado</text>
<text class="tt" x="648" y="703">FK1</text>
</g>

<!-- ===== REFLEXIVAS ===== -->
<g id="lbl-reflexivas">
<text x="20" y="740" class="ser" font-size="11">RELACIONES</text>
<text x="19" y="754" class="arr" font-size="13">→</text>
<text x="20" y="766" class="ser" font-size="11">REFLEXIVAS</text>
<text x="52" y="781" class="bt" font-size="7.8" text-anchor="middle"><tspan class="red">SÍ</tspan> generan tabla o <tspan class="red">NO</tspan>,</text>
<text x="52" y="792" class="bt" font-size="7.8" text-anchor="middle">dependiendo de las</text>
<text x="52" y="803" class="bt" font-size="7.8" text-anchor="middle">cadinalidades y las</text>
<text x="52" y="814" class="bt" font-size="7.8" text-anchor="middle">participaciones. Igual</text>
<text x="52" y="824" class="bt" font-size="7.8" text-anchor="middle">que las relaciones</text>
<text x="52" y="835" class="bt" font-size="7.8" text-anchor="middle">binarias normal. Solo</text>
<text x="52" y="846" class="bt" font-size="7.8" text-anchor="middle">hay que tener en cuenta</text>
<text x="52" y="857" class="bt" font-size="7.8" text-anchor="middle">que no puede haber dos</text>
<text x="52" y="868" class="bt" font-size="7.8" text-anchor="middle">campos que se llamen</text>
<text x="52" y="879" class="bt" font-size="7.8" text-anchor="middle">igual en la misma tabla</text>
<text x="52" y="890" class="bt" font-size="7.8" text-anchor="middle">(a la hora de propagar la</text>
<text x="52" y="901" class="bt" font-size="7.8" text-anchor="middle">clave foránea)</text>
<path class="br" d="M120,715 Q113,716 113,728 L113,802 Q113,810 105,810 Q113,810 113,818 L113,895 Q113,905 120,906"/>
<line x1="438" y1="718" x2="438" y2="886" stroke="#1e9e4a" stroke-width="1.5" stroke-dasharray="5 4"/>
</g>
<!-- reflexive 1:1 -->
<g id="e-empleado-r1">
<rect class="ent" x="143" y="754" width="62" height="16"/><text class="et" x="174" y="765.5">EMPLEADO</text>
<line class="ln" x1="151" y1="739" x2="151" y2="754"/><circle class="fd" cx="151" cy="737" r="2"/><text class="at" x="138" y="731">NºEmpledo</text>
<line class="ln" x1="189" y1="739" x2="189" y2="754"/><circle class="hd" cx="189" cy="737" r="1.8"/><text class="at" x="181" y="731">Nombre</text>
<line class="ln" x1="146" y1="770" x2="146" y2="782"/><circle class="hd" cx="146" cy="784" r="1.8"/><text class="at" x="126" y="796">FechaNacmto</text>
<line class="ln" x1="168" y1="770" x2="168" y2="782"/><circle class="hd" cx="168" cy="784" r="1.8"/><text class="at" x="163" y="796">Titulación</text>
</g>
<g id="r-esjefe-r1">
<polygon class="dia" points="281,767 295,781 281,795 267,781"/><text class="dt" x="281" y="783">Esjefe</text>
<text class="rl" x="307" y="785">1:1</text>
<text class="gt" x="231" y="736">Un empleado es</text><text class="gt" x="231" y="744">jefe</text>
<text class="card" x="233" y="762">(0,1)</text>
<text class="card" x="233" y="777">(1,1)</text>
<text class="gt" x="245" y="790">Un empleado tiene</text><text class="gt" x="245" y="798">como jefe</text>
</g>
<g id="t-empleados-r1">
<rect class="tb" x="358" y="739" width="74" height="69"/><rect class="th" x="358" y="739" width="74" height="14"/>
<line class="tl" x1="358" y1="768" x2="432" y2="768"/><line class="tl" x1="375" y1="753" x2="375" y2="808"/>
<text class="tt c" x="395" y="748.5" font-size="5.5">EMPLEADOS</text>
<text class="tt b" x="361" y="763">PK</text><text class="tt tk" x="378" y="763">NºEmpleado</text>
<text class="tt" x="378" y="777">Nombre</text><text class="tt" x="378" y="785">Titulación</text><text class="tt" x="378" y="793">FechaNacimiento</text><text class="tt" x="378" y="801">NºEmpleadojefe</text>
<text class="tt" x="361" y="801">FK1</text>
</g>
<!-- reflexive 1:N top -->
<g id="e-empleado-r2">
<rect class="ent" x="462" y="754" width="65" height="18"/><text class="et" x="494.5" y="766">EMPLEADO</text>
<line class="ln" x1="473" y1="743" x2="473" y2="754"/><circle class="fd" cx="473" cy="741" r="2"/><text class="at" x="458" y="735">NºEmpledo</text>
<line class="ln" x1="513" y1="743" x2="513" y2="754"/><circle class="hd" cx="513" cy="741" r="1.8"/><text class="at" x="505" y="735">Nombre</text>
<line class="ln" x1="466" y1="772" x2="466" y2="781"/><circle class="hd" cx="466" cy="783" r="1.8"/><text class="at" x="441" y="796">FechaNacmto</text>
<line class="ln" x1="487" y1="772" x2="487" y2="781"/><circle class="hd" cx="487" cy="783" r="1.8"/><text class="at" x="483" y="796">Titulación</text>
</g>
<g id="r-esjefe-r2">
<polygon class="dia" points="603,767 616,781 603,795 590,781"/><text class="dt" x="603" y="783">Esjefe</text>
<text class="rl" x="622" y="784">1:N</text>
<text class="gt" x="562" y="735">Un empleado es</text><text class="gt" x="562" y="743">jefe</text>
<text class="card" x="554" y="754">(0,n)</text>
<text class="card" x="555" y="777">(1,1)</text>
<text class="gt" x="555" y="789">Un empleado tiene</text><text class="gt" x="555" y="798">como jefe</text>
</g>
<g id="t-empleados-r2">
<rect class="tb" x="652" y="732" width="73" height="68"/><rect class="th" x="652" y="732" width="73" height="14"/>
<line class="tl" x1="652" y1="762" x2="725" y2="762"/><line class="tl" x1="670" y1="746" x2="670" y2="800"/>
<text class="tt c" x="688.5" y="741.5" font-size="5.5">EMPLEADOS</text>
<text class="tt b" x="655" y="757">PK</text><text class="tt tk" x="673" y="757">NºEmpleado</text>
<text class="tt" x="673" y="771">Nombre</text><text class="tt" x="673" y="779">Titulación</text><text class="tt" x="673" y="787">FechaNacimiento</text><text class="tt" x="673" y="795">NºEmpleadojefe</text>
<text class="tt" x="655" y="795">FK1</text>
</g>
<!-- reflexive N:M -->
<g id="e-empleado-r3">
<rect class="ent" x="128" y="842" width="55" height="15"/><text class="et" x="155.5" y="853">EMPLEADO</text>
<line class="ln" x1="135" y1="827" x2="135" y2="842"/><circle class="fd" cx="135" cy="825" r="2"/><text class="at" x="119" y="818">NºEmpledo</text>
<line class="ln" x1="169" y1="827" x2="169" y2="842"/><circle class="hd" cx="169" cy="825" r="1.8"/><text class="at" x="160" y="818">Nombre</text>
<line class="ln" x1="130" y1="857" x2="130" y2="869"/><circle class="hd" cx="130" cy="871" r="1.8"/><text class="at" x="117" y="880">Titulación</text>
<line class="ln" x1="150" y1="857" x2="150" y2="869"/><circle class="hd" cx="150" cy="871" r="1.8"/><text class="at" x="147" y="880">FechaNacmto</text>
</g>
<g id="r-esjefe-r3">
<polygon class="dia" points="253,855 268,870 253,885 238,870"/><text class="dt" x="253" y="872">Esjefe</text>
<text class="rl" x="236" y="859">N:M</text>
<text class="gt" x="210" y="818">Un empleado es</text><text class="gt" x="210" y="826">jefe</text>
<text class="card" x="211" y="839">(0,n)</text>
<text class="card" x="207" y="866">(1,n)</text>
<text class="gt" x="207" y="878">Un empleado tiene</text><text class="gt" x="207" y="886">como jefe</text>
</g>
<g id="t-empleados-r3">
<rect class="tb" x="290" y="823" width="52" height="62"/><rect class="th" x="290" y="823" width="52" height="15"/>
<line class="tl" x1="290" y1="852" x2="342" y2="852"/><line class="tl" x1="303" y1="838" x2="303" y2="885"/>
<text class="tt c" x="316" y="833" font-size="5.5">EMPLEADOS</text>
<text class="tt b" x="292" y="848" font-size="5.5">PK</text><text class="tt tk" x="306" y="848" font-size="5.5">NºEmpleado</text>
<text class="tt" x="306" y="863" font-size="5.5">Nombre</text><text class="tt" x="306" y="871" font-size="5.5">Titulación</text><text class="tt" x="306" y="879" font-size="5.5">FechaNcmto</text>
</g>
<g id="t-empjefe-r3">
<rect class="tb" x="370" y="827" width="62" height="54"/><rect class="th" x="370" y="827" width="62" height="15"/>
<line class="tl" x1="370" y1="866" x2="432" y2="866"/><line class="tl" x1="394" y1="842" x2="394" y2="881"/>
<text class="tt c" x="401" y="837" font-size="5.5">EMPLEADOS-JEFE</text>
<text class="tt b" x="372" y="852" font-size="5.5">PK,FK1</text><text class="tt b" x="372" y="860" font-size="5.5">PK,FK2</text>
<text class="tt tk" x="397" y="852" font-size="5.5">NºEmpleado</text><text class="tt tk" x="397" y="860" font-size="5.5">NºJefe</text>
</g>
<!-- reflexive 1:N bottom -->
<g id="e-empleado-r4">
<rect class="ent" x="460" y="843" width="67" height="17"/><text class="et" x="493.5" y="855">EMPLEADO</text>
<line class="ln" x1="469" y1="828" x2="469" y2="843"/><circle class="fd" cx="469" cy="826" r="2"/><text class="at" x="453" y="821">NºEmpledo</text>
<line class="ln" x1="509" y1="828" x2="509" y2="843"/><circle class="hd" cx="509" cy="826" r="1.8"/><text class="at" x="500" y="821">Nombre</text>
<line class="ln" x1="465" y1="860" x2="465" y2="873"/><circle class="hd" cx="465" cy="875" r="1.8"/><text class="at" x="453" y="883">Titulación</text>
<line class="ln" x1="487" y1="860" x2="487" y2="873"/><circle class="hd" cx="487" cy="875" r="1.8"/><text class="at" x="489" y="883">FechaNacmto</text>
</g>
<g id="r-esjefe-r4">
<polygon class="dia" points="581,846 595,859 581,872 567,859"/><text class="dt" x="581" y="861">Esjefe</text>
<text class="gt" x="555" y="831">Un empleado es</text><text class="gt" x="555" y="839">jefe</text>
<text class="card" x="552" y="853">(0,n)</text>
<text class="card" x="556" y="868">(0,1)</text>
<text class="gt" x="553" y="875">Un empleado tiene</text><text class="gt" x="553" y="883">como jefe</text>
<text class="rl" x="594" y="882">1:N</text>
</g>
<g id="t-empleados-r4">
<rect class="tb" x="610" y="817" width="58" height="69"/><rect class="th" x="610" y="817" width="58" height="15"/>
<line class="tl" x1="610" y1="848" x2="668" y2="848"/><line class="tl" x1="626" y1="832" x2="626" y2="886"/>
<text class="tt c" x="639" y="827">EMPLEADOS</text>
<text class="tt b" x="613" y="843">PK</text><text class="tt tk" x="629" y="843">NºEmpleado</text>
<text class="tt" x="629" y="858">Nombre</text><text class="tt" x="629" y="867">Titulación</text><text class="tt" x="629" y="876">FechaNcmto</text>
</g>
<g id="t-empjefe-r4">
<rect class="tb" x="685" y="823" width="69" height="48"/><rect class="th" x="685" y="823" width="69" height="17"/>
<line class="tl" x1="685" y1="855" x2="754" y2="855"/><line class="tl" x1="712" y1="840" x2="712" y2="871"/>
<text class="tt c" x="719.5" y="834">EMPLEADOS-JEFE</text>
<text class="tt b" x="688" y="850">PK,FK1</text><text class="tt tk" x="715" y="850">NºEmpleado</text>
<text class="tt b" x="688" y="866">FK2</text><text class="tt b" x="715" y="866">NºJefe</text>
</g>

<!-- connectors (reflexive + upper sections) -->
<g id="connectors">
<line class="ga" x1="195" y1="72" x2="227" y2="72"/>
<line class="ln" x1="304" y1="129" x2="332" y2="129"/><line class="ln" x1="360" y1="129" x2="383" y2="129"/>
<text class="card" x="318" y="127">(1,1)</text><text class="card" x="371" y="127">(1,1)</text>
<line class="ga" x1="439" y1="128" x2="462" y2="128"/>
<line class="fk" x1="528" y1="107" x2="509" y2="107"/>
<line class="fk" x1="669" y1="104" x2="686" y2="104"/>

<line class="lk" x1="305" y1="196" x2="333" y2="196"/><line class="lk" x1="359" y1="196" x2="383" y2="196"/>
<text class="card" x="319" y="191">(1,1)</text><text class="card" x="370" y="191">(0,1)</text>
<line class="ga" x1="464" y1="192" x2="495" y2="192"/>
<line class="fk" x1="574" y1="180" x2="549" y2="180"/>

<line class="lk" x1="338" y1="265" x2="355" y2="265"/><line class="lk" x1="381" y1="265" x2="400" y2="265"/>
<text class="card" x="347" y="262">(0,1)</text><text class="card" x="392" y="262">(0,1)</text>
<line class="ga" x1="470" y1="266" x2="501" y2="266"/>
<line class="fk" x1="585" y1="260" x2="560" y2="260"/>
<line class="fk" x1="650" y1="256" x2="670" y2="256"/>

<line class="ln" x1="330" y1="337" x2="348" y2="337"/>
<line class="ln" x1="372" y1="337" x2="403" y2="337" style="marker-end:url(#sah)"/>
<text class="card" x="333" y="332">(1,1)</text><text class="card" x="390" y="332">(1,n)</text>
<line class="ga" x1="475" y1="338" x2="506" y2="338"/>
<line class="fk" x1="605" y1="339" x2="584" y2="339"/>

<line class="ln" x1="385" y1="418" x2="368" y2="418" style="marker-end:url(#sah)"/>
<line class="ln" x1="411" y1="418" x2="437" y2="418"/>
<text class="card" x="378" y="412">(1,n)</text><text class="card" x="423" y="412">(0,1)</text>
<line class="ga" x1="491" y1="418" x2="526" y2="418"/>
<line class="fk" x1="606" y1="409" x2="586" y2="409"/>
<line class="fk" x1="675" y1="404" x2="687" y2="404"/>

<line class="ln" x1="370" y1="492" x2="350" y2="492" style="marker-end:url(#sah)"/>
<line class="ln" x1="400" y1="492" x2="417" y2="492" style="marker-end:url(#sah)"/>
<text class="card" x="358" y="487">(1,n)</text><text class="card" x="405" y="487">(1,n)</text>
<line class="ga" x1="489" y1="493" x2="519" y2="493"/>
<line class="fk" x1="583" y1="488" x2="570" y2="488"/>
<line class="fk" x1="675" y1="488" x2="692" y2="488"/>

<line class="ln" x1="308" y1="615" x2="341" y2="615"/>
<line class="ln" x1="377" y1="615" x2="407" y2="615" style="marker-end:url(#sah)"/>
<text class="card" x="325" y="609">(1,1)</text><text class="card" x="390" y="611">(1,n)</text>
<line class="ga" x1="495" y1="611" x2="517" y2="611"/>
<line class="fk" x1="620" y1="605" x2="590" y2="605"/>

<line class="ln" x1="308" y1="672" x2="338" y2="672"/>
<line class="ln" x1="370" y1="672" x2="404" y2="672" style="marker-end:url(#sah)"/>
<text class="card" x="325" y="667">(1,1)</text><text class="card" x="389" y="668">(1,n)</text>
<line class="ga" x1="473" y1="668" x2="506" y2="668"/>
<line class="fk" x1="645" y1="675" x2="593" y2="675"/>

<path class="lk" d="M205,756 L281,756 L281,767"/>
<path class="lk" d="M192,770 L192,781 L267,781"/>
<line class="ga" x1="299" y1="774" x2="330" y2="774"/>
<path class="fk" d="M358,760 L348,760 L348,783 L357,783"/>

<path class="lk" d="M527,757 L603,757 L603,767"/>
<path class="lk" d="M515,772 L515,781 L590,781"/>
<line class="ga" x1="609" y1="762" x2="641" y2="762"/>
<path class="fk" d="M652,754 L645,754 L645,773 L651,773"/>

<path class="lk" d="M183,842 L253,842 L253,855"/>
<path class="lk" d="M170,857 L170,870 L238,870"/>
<line class="ga" x1="272" y1="863" x2="290" y2="863"/>
<line class="fk" x1="370" y1="854" x2="343" y2="854"/>
<line class="fk" x1="370" y1="870" x2="343" y2="870"/>

<path class="lk" d="M527,846 L581,846"/>
<path class="lk" d="M527,859 L567,859"/>
<line class="ga" x1="592" y1="843" x2="609" y2="843"/>
<line class="fk" x1="685" y1="847" x2="669" y2="847"/>
<line class="fk" x1="685" y1="861" x2="669" y2="861"/>
</g>

<rect x="528" y="879" width="240" height="12" fill="#fff"/>

<!-- ===== N-ARIAS ===== -->
<g id="lbl-narias">
<text x="10" y="942" class="ser" font-size="11">RELACIONES</text>
<text x="10" y="955" class="ser" font-size="11"><tspan class="arr" font-size="13">→</tspan> N-ÁRIAS</text>
<text x="175" y="928" class="bt" font-size="7.8" text-anchor="middle"><tspan class="red">SIEMPRE</tspan> generan tabla. Las claves</text>
<text x="175" y="940" class="bt" font-size="7.8" text-anchor="middle">principales de las entidades pasan a la</text>
<text x="175" y="952" class="bt" font-size="7.8" text-anchor="middle">nueva tabla como foráneas y las de los</text>
<text x="175" y="964" class="bt" font-size="7.8" text-anchor="middle">lados "N" también como principales.</text>
<path class="br" d="M268,906 Q261,907 261,918 L261,934 Q261,940 254,940 Q261,940 261,946 L261,966 Q261,976 268,976"/>
</g>
<g id="e-cliente-n">
<rect class="entg" x="275" y="906" width="62" height="10" stroke="#666"/><text class="et" x="306" y="913.5" font-size="5.5">CLIENTE</text>
<line class="ln" x1="281" y1="898" x2="281" y2="906"/><circle class="fd" cx="281" cy="896" r="1.6"/><text class="at" x="266" y="892" font-size="4.5">CodCli</text>
<line class="ln" x1="307" y1="898" x2="307" y2="906"/><circle class="hd" cx="307" cy="896" r="1.4"/><text class="at" x="288" y="892" font-size="4.5">NombreCli</text>
<line class="ln" x1="331" y1="898" x2="331" y2="906"/><circle class="hd" cx="331" cy="896" r="1.4"/><text class="at" x="321" y="892" font-size="4.5">DNICli</text>
</g>
<g id="e-producto-n">
<rect class="entg" x="383" y="906" width="53" height="10" stroke="#666"/><text class="et" x="409.5" y="913.5" font-size="5.5">PRODUCTO</text>
<line class="ln" x1="392" y1="898" x2="392" y2="906"/><circle class="fd" cx="392" cy="896" r="1.6"/><text class="at" x="375" y="892" font-size="4.5">CodProd</text>
<line class="ln" x1="419" y1="898" x2="419" y2="906"/><circle class="hd" cx="419" cy="896" r="1.4"/><text class="at" x="400" y="892" font-size="4.5">Nombreprod</text>
<path class="ln" d="M446,898 L446,911 L436,911"/><circle class="hd" cx="446" cy="896" r="1.4"/><text class="at" x="441" y="892" font-size="4.5">Precio</text>
</g>
<g id="r-venta">
<polygon class="dia" points="359,922 370,931 359,940 348,931"/><text class="dt" x="359" y="932.5" font-size="4">Venta</text>
<text class="rl" x="351" y="919" font-size="5.5">N:M:1</text>
<line class="ln" x1="352" y1="935" x2="341" y2="937.5"/><circle class="hd" cx="339" cy="938" r="1.4"/><text class="at" x="314" y="942" font-size="4.5">Fecha</text>
<line class="ln" x1="366" y1="935" x2="375" y2="939"/><circle class="hd" cx="377" cy="940" r="1.4"/><text class="at" x="380" y="942" font-size="4.5">Cantidad</text>
</g>
<g id="e-vendedor-n">
<rect class="entg" x="328" y="953" width="61" height="12" stroke="#666"/><text class="et" x="358.5" y="961.5" font-size="5.5">VENDEDOR</text>
<line class="ln" x1="332" y1="965" x2="332" y2="971"/><circle class="fd" cx="332" cy="973" r="1.6"/><text class="at" x="314" y="983" font-size="4.5">CodVend</text>
<line class="ln" x1="358" y1="965" x2="358" y2="971"/><circle class="hd" cx="358" cy="973" r="1.4"/><text class="at" x="343" y="983" font-size="4.5">NombreVend</text>
<line class="ln" x1="386" y1="965" x2="386" y2="971"/><circle class="hd" cx="386" cy="973" r="1.4"/><text class="at" x="385" y="983" font-size="4.5">DNIVend</text>
</g>
<g id="connectors-n">
<path class="ln" d="M348,931 L307,931 L307,916"/>
<path class="ln" d="M370,931 L418,931 L418,916"/>
<line class="ln" x1="359" y1="940" x2="359" y2="952" style="marker-end:url(#sah)"/>
<text class="card" x="324" y="926" font-size="5" style="fill:#3344cc">(0,n)</text>
<text class="card" x="398" y="928" font-size="5" style="fill:#3344cc">(0, n)</text>
<text class="card" x="350" y="949" font-size="5" style="fill:#3344cc">(1,n)</text>
<line class="ga" x1="439" y1="936" x2="495" y2="936"/>
<line class="fk" x1="584" y1="929" x2="565" y2="929"/>
<line class="fk" x1="639" y1="908" x2="647" y2="908"/>
<line class="fk" x1="639" y1="942" x2="652" y2="942"/>
</g>
<g id="t-clientes-n">
<rect class="tbg" x="515" y="907" width="49" height="43"/><rect class="thg" x="515" y="907" width="49" height="13"/>
<line class="tlg" x1="515" y1="934" x2="564" y2="934"/><line class="tlg" x1="529" y1="920" x2="529" y2="950"/>
<text class="tt c" x="539.5" y="915.5" font-size="4.5">CLIENTES</text>
<text class="tt b" x="517" y="929" font-size="4.5">PK</text><text class="tt tk" x="532" y="929" font-size="4.5">CodCli</text>
<text class="tt" x="532" y="941" font-size="4.5" fill="#666">NombreCli</text><text class="tt" x="532" y="947" font-size="4.5" fill="#666">DNICli</text>
</g>
<g id="t-ventas">
<rect class="tbg" x="584" y="894" width="55" height="57"/><rect class="thg" x="584" y="894" width="55" height="12"/>
<line class="tlg" x1="584" y1="938" x2="639" y2="938"/><line class="tlg" x1="607" y1="906" x2="607" y2="951"/>
<text class="tt c" x="611.5" y="902" font-size="4.5">VENTAS</text>
<text class="tt b" x="586" y="913" font-size="4.5">PK,FK1</text><text class="tt b" x="586" y="920" font-size="4.5">PK,FK2</text><text class="tt b" x="586" y="927" font-size="4.5">PK,FK3</text><text class="tt b" x="586" y="934" font-size="4.5">PK</text>
<text class="tt tk" x="610" y="913" font-size="4.5">CodCli</text><text class="tt tk" x="610" y="920" font-size="4.5">CodVend</text><text class="tt tk" x="610" y="927" font-size="4.5">CodProd</text><text class="tt tk" x="610" y="934" font-size="4.5">Fecha</text>
<text class="tt" x="610" y="947" font-size="4.5" fill="#666">Cantidad</text>
</g>
<g id="t-vendedores">
<rect class="tbg" x="647" y="880" width="56" height="43"/><rect class="thg" x="647" y="880" width="56" height="11"/>
<line class="tlg" x1="647" y1="903" x2="703" y2="903"/><line class="tlg" x1="663" y1="891" x2="663" y2="923"/>
<text class="tt c" x="675" y="887.5" font-size="4.5">VENDEDORES</text>
<text class="tt b" x="650" y="899" font-size="4.5">PK</text><text class="tt tk" x="666" y="899" font-size="4.5">CodVend</text>
<text class="tt" x="666" y="912" font-size="4.5" fill="#666">NombreVend</text><text class="tt" x="666" y="919" font-size="4.5" fill="#666">DNIVend</text>
</g>
<g id="t-productos">
<rect class="tbg" x="652" y="934" width="54" height="43"/><rect class="thg" x="652" y="934" width="54" height="11"/>
<line class="tlg" x1="652" y1="959" x2="706" y2="959"/><line class="tlg" x1="665" y1="945" x2="665" y2="977"/>
<text class="tt c" x="679" y="941.5" font-size="4.5">PRODUCTOS</text>
<text class="tt b" x="655" y="954" font-size="4.5">PK</text><text class="tt tk" x="668" y="954" font-size="4.5">CodProd</text>
<text class="tt" x="668" y="968" font-size="4.5" fill="#666">NombreProd</text><text class="tt" x="668" y="975" font-size="4.5" fill="#666">Precio</text>
</g>

<!-- ===== JERARQUIAS ===== -->
<g id="lbl-jerarquias">
<text x="14" y="1011" class="ser" font-size="11" textLength="71" lengthAdjust="spacingAndGlyphs">JERARQUÍAS</text>
<path class="br" d="M104,990 Q97,991 97,1001 L97,1006 Q97,1012 89,1012 Q97,1012 97,1018 L97,1024"/>
<text class="jt" x="106" y="1000">•</text><text class="jt" x="106" y="1011">•</text><text class="jt" x="106" y="1022">•</text>
<text class="jt" x="120" y="1000" textLength="431" lengthAdjust="spacingAndGlyphs">Se creará una tabla para la entidad supertipo. A no ser que tenga tan pocos atributos que dejarla sea una complicación.</text>
<text class="jt" x="120" y="1011" textLength="356" lengthAdjust="spacingAndGlyphs">Si la entidad subtipo no tiene atributos y no está relacionada con ninguna otra entidad, desaparece.</text>
<text class="jt" x="120" y="1022" textLength="476" lengthAdjust="spacingAndGlyphs">Si la entidad subtipo tiene algún atributo o interviene en alguna relación, se crea una tabla. Hereda la clave de la entidad supertipo.</text>
</g>
</svg>
